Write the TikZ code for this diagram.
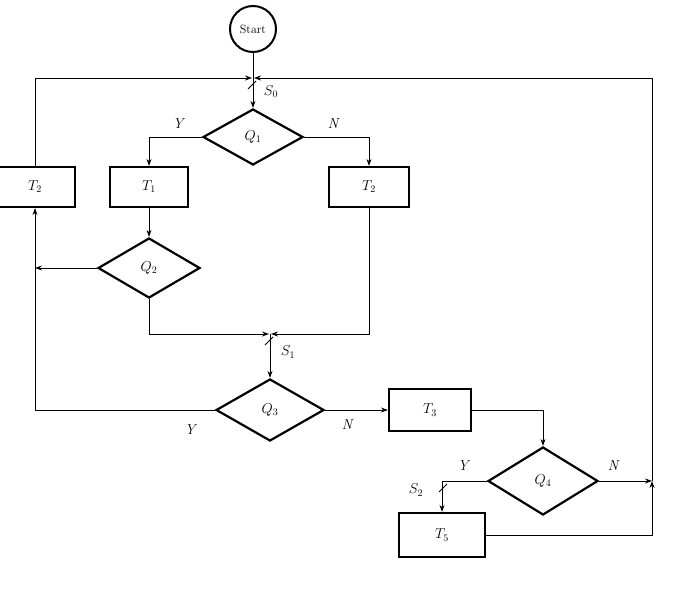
\documentclass[tikz,border=0pt]{standalone}
\usetikzlibrary{shapes.geometric,arrows.meta,calc}
\begin{document}
\begin{tikzpicture}[x=1pt,y=-1pt,
  box/.style={draw,line width=2.2pt,minimum width=78pt,minimum height=40pt,inner sep=0pt,font=\Large},
  dia/.style={draw,diamond,aspect=1.8,line width=2.2pt,inner sep=0pt,font=\Large},
  con/.style={line width=0.9pt},
  arr/.style={con,-{Stealth[length=7pt,width=5pt]}},
  lab/.style={font=\itshape\Large}]
\useasboundingbox (0,0) rectangle (700,601);
\fill[white] (0,0) rectangle (700,601);
\node[draw,circle,line width=2pt,minimum size=46pt,inner sep=0pt,font=\large] (start) at (253,29) {Start};
\coordinate (s0) at (253,78);
\coordinate (s1) at (270,334);
\node[dia,minimum width=100pt,minimum height=56pt] (q1) at (253,137) {$Q_1$};
\node[box] (t1) at (149,187) {$T_1$};
\node[box,minimum width=80pt] (t2) at (35,187) {$T_2$};
\node[box,minimum width=80pt] (t2b) at (369,187) {$T_2$};
\node[dia,minimum width=102pt,minimum height=60pt] (q2) at (149,268) {$Q_2$};
\node[dia,minimum width=108pt,minimum height=62pt] (q3) at (270,410) {$Q_3$};
\node[box,minimum width=82pt,minimum height=42pt] (t3) at (430,410) {$T_3$};
\node[dia,minimum width=110pt,minimum height=68pt] (q4) at (543,481) {$Q_4$};
\node[box,minimum width=86pt,minimum height=44pt] (t5) at (442,535) {$T_5$};
\coordinate (rt) at (652,78);
\coordinate (rm) at (652,481);
\coordinate (rb) at (652,535);
% top
\draw[con] (start) -- (s0);
\draw[arr] (s0) -- (q1.north);
\draw[arr] (t2.north) |- ([xshift=-1pt]s0);
\draw[arr] (rm) -- (rt) -- ([xshift=1pt]s0);
\draw[con] ($(s0)+(-5,11)$) -- ($(s0)+(3,3)$);
% Q1
\draw[arr] (q1.west) -| (t1.north);
\draw[arr] (q1.east) -| (t2b.north);
\node[lab] (y1) at (178,124) {Y};
\node[lab] (n1) at (333,124) {N};
\node[lab] (s0l) at (271,92) {$S_0$};
% T1 -> Q2
\draw[arr] (t1.south) -- (q2.north);
\coordinate (l2) at (35,268);
\draw[arr] (q2.west) -- (l2);
\draw[arr] (q3.west) -| (t2.south);
% to S1
\draw[arr] (q2.south) |- ([xshift=-1pt]s1);
\draw[arr] (t2b.south) |- ([xshift=1pt]s1);
\draw[arr] (s1) -- (q3.north);
\draw[con] ($(s1)+(-5,11)$) -- ($(s1)+(3,3)$);
\node[lab] (s1l) at (288,352) {$S_1$};
\node[lab] (y3) at (190,430) {Y};
\node[lab] (n3) at (347,425) {N};
% Q3 -> T3 -> Q4
\draw[arr] (q3.east) -- (t3.west);
\draw[arr] (t3.east) -| (q4.north);
\draw[arr] (q4.east) -- (rm);
\draw[arr] (t5.east) -- (rb) -- (rm);
\draw[arr] (q4.west) -| (t5.north);
\draw[con] ($(444,481)+(-5,11)$) -- ($(444,481)+(3,3)$);
\node[lab] (y4) at (463,466) {Y};
\node[lab] (n4) at (613,466) {N};
\node[lab] (s2l) at (416,490) {$S_2$};
\end{tikzpicture}
\end{document}
